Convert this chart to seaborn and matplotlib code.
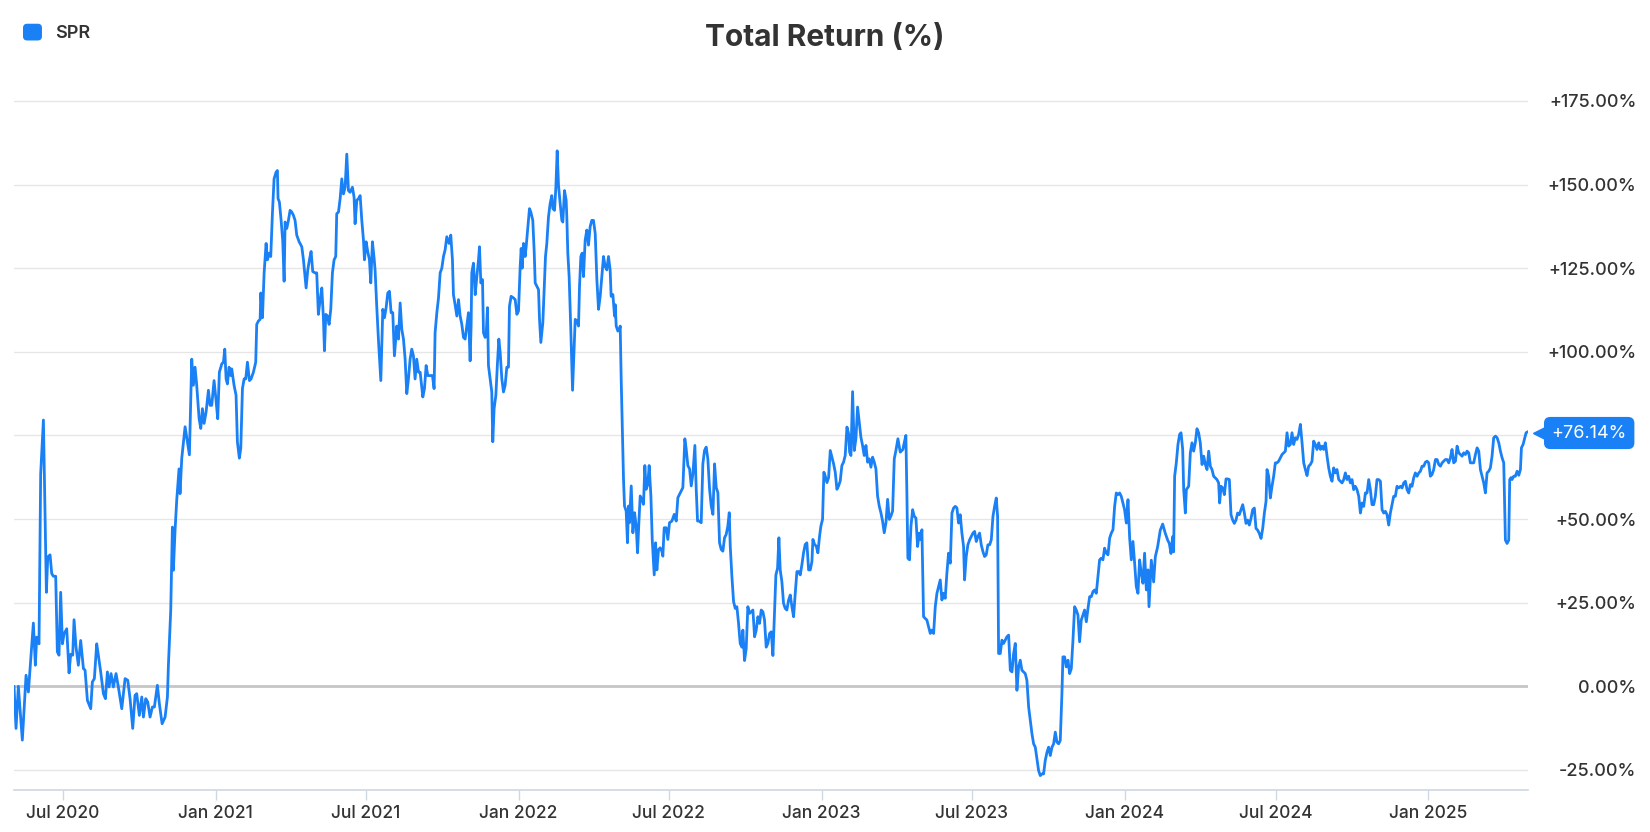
"""Total return line chart for SPR, May 2020 - May 2025."""
import matplotlib
matplotlib.use("Agg")
import matplotlib.pyplot as plt
import matplotlib.dates as mdates
from matplotlib.legend_handler import HandlerPatch
from matplotlib.patches import FancyBboxPatch, Patch
from matplotlib.transforms import offset_copy
import pandas as pd
import seaborn as sns

# ── data: (days since 2020-05-01, total return %) ──
START = pd.Timestamp("2020-05-01")

RET_2020 = [
    (2.0, 0.0), (4.4, -12.6), (7.2, 0.0), (12.0, -16.1), (16.5, 3.3), (19.3, -1.7),
    (25.3, 18.9), (27.7, 6.3), (29.3, 14.7), (32.1, 12.7), (34.1, 63.5), (37.4, 79.6),
    (39.4, 50.6), (41.0, 28.1), (42.6, 38.6), (45.4, 39.3), (47.4, 33.7), (49.4, 32.9),
    (52.2, 32.9), (54.2, 10.3), (56.2, 9.3), (58.2, 28.1), (60.3, 12.7), (62.3, 15.7),
    (65.5, 17.2), (68.3, 4.0), (70.3, 9.6), (72.7, 9.3), (74.3, 19.9), (76.7, 11.7),
    (79.5, 6.3), (82.3, 13.7), (85.6, 5.3), (87.6, 4.8), (90.4, -4.2), (94.4, -6.7),
    (96.4, 1.3), (98.8, 2.3), (101.6, 12.7), (103.6, 9.3), (106.4, 4.3), (109.7, -2.2),
    (112.1, -3.7), (114.5, 4.3), (116.5, -0.2), (118.9, 3.8), (121.7, -0.2), (124.9, 3.8),
    (127.7, -0.2), (131.8, -6.7), (135.8, 2.3), (139.0, 1.8), (141.8, -3.7), (145.0, -12.6),
    (147.8, -2.7), (149.8, -2.2), (153.0, -8.7), (155.9, -3.2), (157.9, -9.2), (160.7, -3.7),
    (163.1, -4.7), (165.9, -9.2), (168.7, -6.2), (171.1, -6.2), (174.7, 0.3), (177.1, -5.2),
    (180.4, -11.2), (184.0, -9.2), (186.8, -3.2), (188.0, 6.3), (190.8, 22.7), (192.8, 47.6),
    (194.0, 34.7), (196.0, 46.6), (198.0, 55.6), (200.8, 65.0), (202.0, 57.6),
    (204.1, 68.2), (208.1, 77.6), (213.3, 69.2), (216.1, 97.8), (218.1, 90.0), (220.1, 95.4),
    (222.1, 90.0), (225.0, 80.0), (227.0, 77.1), (229.0, 83.0), (231.0, 78.6), (233.4, 82.0),
    (236.2, 88.5), (238.2, 84.0), (240.2, 84.0), (243.0, 91.4), (245.4, 85.5),
]

RET_2021 = [
    (247.4, 80.0), (249.4, 93.9), (252.3, 96.4), (254.3, 96.9), (255.9, 100.8), (257.5, 91.9),
    (259.1, 90.4), (261.1, 95.4), (263.1, 92.9), (264.3, 94.9), (267.1, 90.0), (269.5, 87.0),
    (271.1, 73.1), (273.5, 68.2), (275.2, 71.2), (277.2, 89.0), (279.2, 91.9), (281.2, 91.9),
    (283.2, 96.9), (285.6, 91.4), (287.6, 91.9), (290.4, 93.9), (293.2, 96.9), (294.4, 108.2),
    (296.4, 109.2), (298.5, 109.7), (299.3, 117.6), (301.3, 110.2), (303.3, 123.5),
    (305.7, 132.4), (307.3, 127.5), (309.7, 129.5), (311.3, 128.5), (313.3, 141.3),
    (315.3, 151.7), (317.7, 153.7), (319.3, 154.2), (320.1, 145.8), (321.7, 144.8),
    (323.8, 139.3), (325.8, 132.9), (327.4, 121.1), (328.6, 138.8), (330.6, 136.9),
    (332.6, 139.3), (334.6, 142.3), (336.6, 141.8), (338.6, 140.8), (340.6, 139.3),
    (342.6, 134.9), (345.5, 132.9), (348.7, 131.4), (350.7, 127.5), (353.9, 119.1),
    (355.9, 124.5), (357.9, 127.5), (359.9, 130.0), (361.9, 124.0), (364.7, 123.6),
    (366.7, 123.6), (368.7, 111.2), (370.8, 115.6), (372.8, 119.1), (374.8, 109.7),
    (376.0, 100.3), (377.6, 111.2), (379.6, 110.7), (381.6, 108.2), (383.6, 112.7),
    (385.6, 123.6), (387.6, 127.5), (389.6, 128.5), (390.8, 141.3), (392.9, 141.8),
    (394.9, 145.8), (396.9, 151.7), (398.9, 147.2), (400.9, 149.2), (402.9, 159.1),
    (404.9, 148.2), (406.9, 147.7), (409.7, 149.2), (411.7, 146.2), (412.9, 138.3),
    (415.0, 145.3), (417.0, 145.8), (419.0, 146.7), (421.0, 139.3), (423.0, 133.4),
    (424.2, 127.5), (426.2, 132.9), (428.2, 129.9), (430.2, 127.5), (431.8, 120.6),
    (433.8, 132.9), (435.8, 128.0), (437.0, 124.5), (439.0, 113.6), (441.0, 103.8),
    (443.9, 91.4), (446.3, 112.7), (448.3, 110.2), (450.3, 113.2), (452.3, 117.6),
    (454.3, 118.1), (456.3, 111.7), (458.3, 111.7), (460.3, 98.8), (463.1, 107.7),
    (465.2, 103.8), (467.2, 114.6), (469.2, 106.7), (471.2, 103.8), (473.2, 97.8),
    (475.2, 87.5), (477.2, 91.9), (479.2, 97.8), (481.2, 100.8), (483.2, 98.8),
    (485.2, 91.9), (487.2, 97.8), (489.3, 93.9), (491.3, 93.9), (494.5, 86.5),
    (496.5, 89.0), (498.5, 95.9), (500.5, 92.9), (503.3, 92.9), (506.1, 92.9),
    (508.1, 89.0), (509.3, 105.7), (511.4, 111.7), (513.4, 116.1), (515.4, 123.6),
    (517.4, 125.0), (519.4, 128.5), (521.4, 130.5), (523.4, 134.4), (526.2, 132.4),
    (528.2, 134.9), (530.2, 127.5), (531.4, 117.1), (533.4, 114.1), (535.5, 110.7),
    (537.5, 115.6), (539.5, 110.7), (541.5, 108.2), (543.5, 104.3), (545.5, 103.8),
    (547.5, 107.7), (549.5, 111.7), (551.5, 97.3), (552.7, 107.7), (553.5, 123.6),
    (555.5, 126.5), (557.6, 117.1), (559.6, 122.5), (561.6, 127.5), (562.8, 131.4),
    (564.4, 120.6), (566.4, 121.6), (567.6, 105.7), (569.6, 104.3), (570.8, 104.8),
    (572.4, 113.2), (573.6, 95.9), (575.6, 91.9), (577.6, 88.0), (578.8, 73.1),
    (580.4, 83.0), (582.5, 87.0), (584.5, 96.9), (586.1, 103.8), (587.7, 99.8),
    (589.7, 91.9), (591.7, 88.0), (593.7, 90.0), (595.7, 95.4), (597.7, 95.4),
    (598.9, 113.6), (600.9, 116.6), (603.8, 116.1), (605.8, 115.6), (607.8, 111.2),
    (609.8, 112.2),
]

RET_2022 = [
    (611.8, 125.5), (613.0, 130.9), (614.2, 125.0), (615.8, 132.4), (617.8, 128.5),
    (619.0, 131.4), (620.6, 135.9), (623.0, 142.8), (624.6, 141.8), (627.0, 139.3),
    (628.7, 129.9), (629.9, 120.6), (631.9, 119.6), (633.9, 118.6), (635.1, 109.7),
    (636.7, 102.8), (639.1, 108.7), (640.7, 118.6), (642.3, 128.5), (643.9, 132.4),
    (645.9, 140.3), (647.9, 144.3), (649.9, 146.7), (651.2, 142.8), (653.2, 142.3),
    (654.8, 149.2), (656.4, 160.1), (658.0, 149.7), (660.0, 144.3), (662.0, 139.3),
    (663.2, 138.8), (665.2, 148.2), (667.2, 145.3), (668.0, 140.3), (669.2, 129.5),
    (670.8, 122.5), (672.8, 106.7), (674.9, 88.5), (676.9, 101.8), (678.1, 109.7),
    (680.1, 109.2), (682.1, 107.7), (683.3, 119.6), (684.9, 128.5), (686.5, 129.5),
    (688.1, 122.5), (690.1, 133.4), (692.1, 136.4), (694.1, 131.9), (696.1, 137.4),
    (698.1, 139.3), (700.1, 139.3), (702.2, 135.4), (704.2, 121.6), (706.2, 112.7),
    (708.2, 116.6), (710.2, 122.5), (712.2, 128.5), (714.2, 125.5), (716.2, 124.5),
    (718.2, 128.5), (720.2, 124.5), (721.4, 116.6), (723.5, 117.1), (725.5, 110.7),
    (726.3, 114.1), (727.5, 107.7), (729.5, 106.2), (731.5, 106.7), (732.3, 107.7),
    (733.5, 91.9), (735.1, 74.1), (736.3, 61.9), (737.5, 53.9), (739.5, 52.4),
    (741.1, 42.9), (742.3, 53.9), (743.5, 48.9), (745.6, 59.9), (747.6, 45.9),
    (749.6, 51.9), (751.6, 47.9), (753.2, 39.9), (754.8, 48.9), (756.4, 56.9),
    (758.4, 55.9), (760.4, 54.4), (762.0, 66.0), (763.6, 58.9), (765.6, 60.4),
    (767.2, 66.0), (769.3, 56.9), (770.9, 43.9), (773.3, 33.3), (774.9, 42.9),
    (776.5, 34.8), (778.5, 40.9), (780.5, 41.4), (782.5, 40.4), (783.7, 38.9),
    (785.3, 47.4), (787.7, 47.4), (789.7, 43.9), (791.7, 48.9), (794.6, 49.4),
    (797.4, 51.4), (799.8, 49.4), (801.8, 56.4), (803.8, 57.4), (805.8, 58.4),
    (807.8, 59.4), (810.2, 74.0), (811.8, 71.0), (813.8, 66.0), (815.9, 65.0),
    (817.9, 59.9), (819.9, 63.5), (822.3, 72.0), (823.9, 58.9), (825.5, 49.4),
    (827.5, 49.4), (829.9, 48.9), (831.9, 66.5), (833.9, 70.5), (835.9, 71.5),
    (837.9, 68.0), (840.0, 58.9), (842.0, 53.9), (844.0, 51.4), (846.0, 66.5),
    (848.0, 59.4), (850.0, 57.9), (852.0, 42.9), (854.0, 40.9), (856.0, 40.4),
    (858.0, 44.4), (860.0, 45.4), (862.0, 47.9), (863.7, 51.9), (864.9, 41.9),
    (866.9, 32.8), (868.9, 25.3), (870.9, 23.3), (872.9, 23.8), (874.9, 18.8),
    (876.9, 12.8), (878.9, 11.7), (880.1, 16.8), (882.1, 7.7), (884.1, 11.2),
    (886.1, 23.8), (888.2, 21.8), (890.2, 22.3), (892.2, 22.8), (894.2, 14.8),
    (896.2, 16.8), (898.2, 20.8), (900.2, 18.8), (902.2, 22.8), (904.2, 22.3),
    (906.2, 19.8), (908.2, 11.7), (910.2, 12.8), (912.3, 15.8), (914.3, 16.3),
    (916.3, 9.2), (918.3, 22.8), (919.9, 33.3), (921.9, 35.3), (923.5, 44.4),
    (925.1, 34.8), (927.1, 31.3), (929.1, 24.8), (931.1, 23.3), (933.1, 22.8),
    (935.2, 25.8), (937.2, 27.3), (939.2, 23.8), (941.2, 20.8), (943.2, 27.8),
    (945.2, 34.3), (947.2, 34.3), (949.2, 33.3), (951.2, 36.3), (953.2, 39.9),
    (955.2, 42.4), (957.2, 42.9), (959.3, 34.8), (961.3, 34.8), (963.3, 37.3),
    (964.5, 43.9), (966.5, 42.4), (968.5, 41.9), (970.5, 39.9), (972.5, 44.9),
    (974.1, 47.9),
]

RET_2023 = [
    (976.1, 49.9), (977.7, 64.0), (979.3, 62.9), (981.4, 60.9), (983.4, 62.4),
    (985.4, 70.5), (987.4, 68.5), (989.4, 66.5), (991.4, 64.0), (993.4, 58.9),
    (995.4, 59.9), (997.4, 61.4), (999.4, 66.0), (1001.4, 67.0), (1003.4, 69.0),
    (1005.5, 77.5), (1007.5, 75.5), (1008.7, 70.0), (1010.3, 69.0), (1012.3, 88.1),
    (1014.3, 70.5), (1016.3, 74.0), (1018.3, 83.5), (1020.3, 79.0), (1022.3, 74.5),
    (1024.3, 72.0), (1026.3, 69.0), (1028.4, 72.0), (1030.4, 67.0), (1032.4, 68.0),
    (1034.4, 65.5), (1036.4, 68.5), (1038.4, 67.0), (1040.4, 65.0), (1042.4, 56.9),
    (1044.4, 53.9), (1046.4, 51.9), (1048.4, 49.4), (1050.4, 45.9), (1052.5, 48.9),
    (1054.5, 55.9), (1056.5, 49.9), (1058.5, 50.9), (1060.5, 52.4), (1062.5, 68.0),
    (1064.5, 70.5), (1066.9, 74.0), (1069.7, 70.0), (1072.9, 70.8), (1074.5, 72.8),
    (1076.5, 75.0), (1077.7, 57.8), (1078.9, 38.3), (1080.9, 37.8), (1082.6, 47.8),
    (1084.6, 52.8), (1086.6, 50.8), (1088.6, 50.3), (1090.6, 41.8), (1092.6, 45.8),
    (1094.6, 43.8), (1095.8, 46.8), (1097.8, 20.8), (1099.8, 20.3), (1101.8, 19.8),
    (1103.8, 17.8), (1105.9, 15.8), (1107.9, 16.8), (1109.9, 15.8), (1111.9, 23.8),
    (1113.9, 27.8), (1115.9, 29.8), (1117.9, 31.8), (1119.9, 25.8), (1121.9, 27.8),
    (1123.9, 26.3), (1125.9, 33.8), (1127.9, 39.8), (1130.0, 36.8), (1132.0, 51.8),
    (1134.0, 53.3), (1136.0, 53.8), (1138.0, 53.3), (1140.0, 48.8), (1142.0, 51.3),
    (1144.0, 45.8), (1146.0, 41.8), (1147.2, 31.8), (1149.2, 38.8), (1151.2, 42.3),
    (1153.3, 43.8), (1155.3, 44.8), (1157.3, 45.8), (1159.3, 46.3), (1161.3, 43.3),
    (1163.3, 44.8), (1165.3, 45.8), (1167.3, 42.3), (1169.3, 40.3), (1171.3, 38.8),
    (1173.3, 39.3), (1175.3, 42.3), (1177.4, 42.3), (1179.4, 43.8), (1181.4, 50.8),
    (1183.4, 53.8), (1185.4, 56.3), (1187.0, 50.8), (1188.2, 9.8), (1190.2, 9.8),
    (1192.2, 13.8), (1194.2, 12.8), (1196.2, 13.8), (1198.2, 14.8), (1200.3, 15.3),
    (1202.3, 4.8), (1204.3, 4.3), (1206.3, 9.8), (1208.3, 12.8), (1210.3, -1.2),
    (1212.3, 5.8), (1214.3, 7.8), (1216.3, 4.8), (1218.3, 4.3), (1220.3, 3.8),
    (1222.3, 1.8), (1224.4, -6.2), (1226.4, -10.2), (1228.4, -14.2), (1230.4, -17.2),
    (1232.4, -18.2), (1234.4, -21.7), (1236.4, -25.2), (1238.4, -26.7), (1240.4, -26.2),
    (1242.4, -26.2), (1244.4, -22.2), (1246.5, -19.7), (1248.5, -18.2), (1250.5, -20.7),
    (1252.5, -18.2), (1254.5, -17.2), (1256.5, -13.7), (1258.5, -16.7), (1260.5, -17.2),
    (1262.5, -16.2), (1264.5, -2.2), (1265.7, 8.8), (1267.7, 8.8), (1269.7, 5.8),
    (1271.8, 7.8), (1273.8, 3.8), (1275.8, 5.3), (1277.8, 13.8), (1279.8, 23.8),
    (1281.8, 22.8), (1283.8, 21.3), (1285.8, 13.3), (1287.8, 19.8), (1289.8, 21.3),
    (1291.8, 22.8), (1293.9, 19.3), (1295.9, 23.3), (1297.9, 26.8), (1299.9, 26.8),
    (1301.9, 28.3), (1303.9, 28.8), (1305.9, 27.8), (1307.9, 32.8), (1309.9, 37.8),
    (1311.9, 38.3), (1313.9, 37.8), (1315.9, 41.3), (1318.0, 39.8), (1320.0, 39.3),
    (1322.0, 44.3), (1324.0, 45.8), (1326.0, 46.8), (1328.0, 53.8), (1330.0, 57.8),
    (1332.0, 57.3), (1334.0, 57.8), (1336.0, 56.8), (1338.0, 54.8), (1340.0, 52.8),
    (1342.1, 48.8), (1344.1, 55.8), (1346.1, 44.3), (1348.1, 37.8), (1350.1, 43.3),
    (1352.1, 36.8), (1354.1, 29.8), (1356.1, 27.8), (1358.1, 37.8), (1360.1, 33.8),
    (1362.1, 30.8), (1364.1, 39.8), (1366.2, 28.8), (1368.2, 34.8), (1369.4, 23.8),
]

RET_2024 = [
    (1372.2, 37.7), (1375.0, 31.2), (1377.0, 38.7), (1379.8, 41.7), (1383.0, 46.7),
    (1385.9, 48.5), (1389.1, 45.7), (1391.9, 43.7), (1393.9, 42.7), (1395.9, 39.7),
    (1397.9, 44.7), (1399.1, 40.2), (1400.3, 62.8), (1402.3, 66.8), (1404.3, 72.3),
    (1406.3, 75.3), (1408.0, 75.8), (1410.0, 70.8), (1411.2, 58.8), (1413.2, 51.8),
    (1414.4, 58.8), (1417.2, 59.8), (1419.2, 69.8), (1421.2, 72.8), (1423.2, 70.3),
    (1425.2, 72.8), (1427.2, 77.0), (1429.2, 75.8), (1431.2, 72.8), (1433.3, 66.3),
    (1435.3, 68.8), (1437.3, 66.3), (1439.3, 64.8), (1441.3, 70.3), (1443.3, 65.8),
    (1445.3, 64.8), (1447.3, 62.8), (1449.3, 62.3), (1451.3, 61.8), (1453.3, 60.8),
    (1454.5, 54.8), (1456.2, 59.8), (1458.2, 59.3), (1460.2, 57.3), (1462.2, 62.0),
    (1464.2, 62.0), (1466.2, 61.8), (1468.2, 51.3), (1470.2, 49.7), (1472.2, 48.7),
    (1474.2, 49.7), (1476.2, 51.8), (1478.2, 51.3), (1480.3, 52.8), (1482.3, 54.3),
    (1484.3, 51.8), (1486.3, 48.7), (1488.3, 49.7), (1490.3, 48.2), (1492.3, 50.2),
    (1494.3, 52.8), (1496.3, 53.3), (1498.3, 47.2), (1500.3, 46.7), (1502.3, 45.7),
    (1504.4, 44.2), (1506.4, 47.2), (1508.4, 51.8), (1510.4, 55.3), (1511.6, 64.8),
    (1513.6, 62.8), (1515.6, 56.3), (1517.6, 59.8), (1519.6, 62.8), (1521.6, 66.8),
    (1523.6, 66.8), (1525.6, 67.3), (1527.7, 68.3), (1529.7, 69.3), (1531.7, 69.8),
    (1533.7, 70.3), (1535.7, 75.8), (1537.7, 71.8), (1539.7, 72.3), (1541.7, 75.8),
    (1543.7, 72.3), (1545.7, 74.3), (1547.7, 73.8), (1549.7, 75.3), (1551.8, 78.3),
    (1553.8, 72.8), (1555.8, 66.8), (1557.8, 64.8), (1559.8, 63.0), (1561.8, 65.8),
    (1563.8, 66.3), (1565.8, 67.3), (1567.8, 73.3), (1569.8, 72.3), (1571.8, 70.8),
    (1573.9, 72.8), (1575.9, 70.8), (1577.9, 71.8), (1579.9, 70.8), (1581.9, 72.8),
    (1583.9, 68.8), (1585.9, 65.3), (1587.9, 62.8), (1589.9, 61.3), (1591.9, 65.3),
    (1593.9, 63.8), (1595.9, 64.8), (1598.0, 61.8), (1600.0, 61.3), (1602.0, 60.8),
    (1604.0, 61.8), (1606.0, 63.8), (1608.0, 61.8), (1610.0, 62.8), (1612.0, 60.8),
    (1614.0, 61.8), (1616.0, 58.8), (1618.0, 59.8), (1620.0, 58.8), (1622.1, 56.8),
    (1624.1, 51.8), (1626.1, 54.8), (1628.1, 53.8), (1630.1, 57.8), (1632.1, 57.8),
    (1634.1, 61.8), (1636.1, 58.8), (1638.1, 54.3), (1640.1, 54.3), (1642.1, 56.8),
    (1644.1, 61.8), (1646.2, 61.8), (1648.2, 61.3), (1650.2, 52.8), (1652.2, 51.8),
    (1654.2, 52.3), (1656.2, 51.3), (1658.2, 48.2), (1660.2, 51.8), (1662.2, 54.3),
    (1664.2, 56.8), (1666.2, 56.8), (1668.2, 59.8), (1670.3, 59.3), (1672.3, 59.8),
    (1674.3, 59.3), (1676.3, 60.8), (1678.3, 61.3), (1680.3, 58.8), (1682.3, 57.8),
    (1684.3, 60.3), (1686.3, 59.8), (1688.3, 62.3), (1690.3, 63.8), (1692.4, 62.8),
    (1694.4, 63.8), (1696.4, 64.3), (1698.4, 65.8), (1700.4, 65.8), (1702.4, 67.0),
    (1704.4, 67.3), (1706.4, 66.8), (1708.4, 62.8), (1710.4, 63.3), (1712.4, 64.8),
    (1714.5, 67.8), (1716.5, 67.8), (1718.5, 66.3), (1720.5, 65.8), (1722.5, 66.8),
    (1724.5, 67.3), (1726.5, 67.8), (1728.5, 67.8), (1730.5, 66.8), (1732.5, 68.3),
]

RET_2025 = [
    (1734.5, 70.8), (1736.5, 66.8), (1738.6, 67.3), (1740.6, 71.8), (1742.6, 69.8),
    (1744.6, 69.3), (1746.6, 68.8), (1748.6, 69.8), (1750.6, 69.3), (1752.6, 70.3),
    (1754.6, 69.8), (1756.6, 66.8), (1758.6, 66.8), (1760.6, 66.8), (1762.7, 69.3),
    (1764.7, 71.3), (1766.7, 70.3), (1768.7, 64.8), (1770.7, 62.8), (1772.7, 60.8),
    (1774.7, 57.8), (1776.7, 63.8), (1778.7, 64.3), (1780.7, 65.3), (1782.7, 68.8),
    (1784.7, 74.3), (1786.8, 74.8), (1788.8, 74.3), (1790.8, 72.8), (1792.8, 70.3),
    (1794.8, 68.3), (1796.8, 66.8), (1798.8, 43.7), (1800.8, 42.7), (1802.8, 43.7),
    (1804.0, 61.8), (1805.6, 62.4), (1806.8, 61.8), (1808.8, 62.8), (1810.8, 62.8),
    (1812.9, 64.3), (1814.9, 63.1), (1816.9, 64.8), (1818.1, 71.3), (1820.1, 72.3),
    (1821.7, 73.8), (1823.7, 75.8), (1826.1, 76.14),
]

TICKER = "SPR"
TITLE = "Total Return (%)"
Y_TICKS = [-25, 0, 25, 50, 75, 100, 125, 150, 175]

BLUE = "#1a80f5"
TEXT = "#333333"


def pct_label(v):
    return "0.00%" if v == 0 else f"{v:+.2f}%"


def rounded_square(legend, orig_handle, xdescent, ydescent, width, height, fontsize):
    return FancyBboxPatch((-xdescent, -ydescent), width, height,
                          boxstyle="round,pad=0,rounding_size=3",
                          fc=orig_handle.get_facecolor(), ec="none")


def main():
    points = RET_2020 + RET_2021 + RET_2022 + RET_2023 + RET_2024 + RET_2025
    df = pd.DataFrame(points, columns=["day", "ret"])
    df["date"] = START + pd.to_timedelta(df["day"], unit="D")
    last = df.iloc[-1]

    sns.set_style("white")
    plt.rcParams["font.family"] = ["Inter", "DejaVu Sans"]

    fig = plt.figure(figsize=(16.5, 8.32), dpi=100)
    ax = fig.add_axes([0.0085, 0.0505, 0.9176, 0.8362])

    ax.axhline(0, color="#c6c6c6", lw=2.0, zorder=1)
    sns.lineplot(data=df, x="date", y="ret", estimator=None, sort=False,
                 color=BLUE, lw=2.0, ax=ax, zorder=3)

    ax.set_xlim(df["date"].iloc[0], df["date"].iloc[-1])
    ax.set_ylim(-31, 177)
    ax.set_xlabel("")
    ax.set_ylabel("")

    # y axis on the right, labels right-aligned; the badge hides the tick it sits on
    ax.set_yticks(Y_TICKS)
    ax.set_yticklabels(["" if abs(v - last["ret"]) < 6 else pct_label(v) for v in Y_TICKS])
    ax.yaxis.tick_right()
    ax.tick_params(axis="y", length=0, pad=78, labelsize=13, labelcolor=TEXT)
    for lbl in ax.get_yticklabels():
        lbl.set_horizontalalignment("right")
        lbl.set_fontweight("medium")
    ax.grid(axis="y", color="#e6e6e6", lw=1.0, zorder=0)
    ax.grid(axis="x", visible=False)

    ax.xaxis.set_major_locator(mdates.MonthLocator(bymonth=[1, 7]))
    ax.xaxis.set_major_formatter(mdates.DateFormatter("%b %Y"))
    ax.tick_params(axis="x", length=7, width=1, color="#cdd8e3", pad=4,
                   labelsize=12.5, labelcolor=TEXT, bottom=True)
    for lbl in ax.get_xticklabels():
        lbl.set_fontweight("medium")

    for side in ("top", "left", "right"):
        ax.spines[side].set_visible(False)
    ax.spines["bottom"].set_color("#cdd8e3")
    ax.spines["bottom"].set_linewidth(1.2)

    # last-value badge
    ax.annotate(pct_label(round(last["ret"], 2)), xy=(last["date"], last["ret"]),
                xytext=(44, -1), textcoords="offset points",
                ha="center", va="center", fontsize=13, color="white",
                bbox=dict(boxstyle="round,pad=0.42,rounding_size=0.35",
                          fc=BLUE, ec="none"),
                annotation_clip=False, zorder=5)
    tri = offset_copy(ax.transData, fig=fig, x=8.0, y=-1, units="points")
    ax.plot([last["date"]], [last["ret"]], marker="<", ms=8, color=BLUE,
            transform=tri, clip_on=False, zorder=5)

    fig.text(0.5, 1 - 38 / 832, TITLE, ha="center", va="center",
             fontsize=21.5, fontweight="bold", color=TEXT)
    fig.legend(handles=[Patch(facecolor=BLUE, edgecolor="none", label=TICKER)],
               handler_map={Patch: HandlerPatch(patch_func=rounded_square)},
               loc="center left", bbox_to_anchor=(23 / 1650, 1 - 33 / 832),
               frameon=False, handlelength=1.05, handleheight=1.05,
               handletextpad=0.75, borderpad=0, borderaxespad=0,
               prop={"size": 13, "weight": "semibold"}, labelcolor=TEXT)

    fig.savefig("out.png", dpi=100)
    plt.close(fig)


if __name__ == "__main__":
    main()
